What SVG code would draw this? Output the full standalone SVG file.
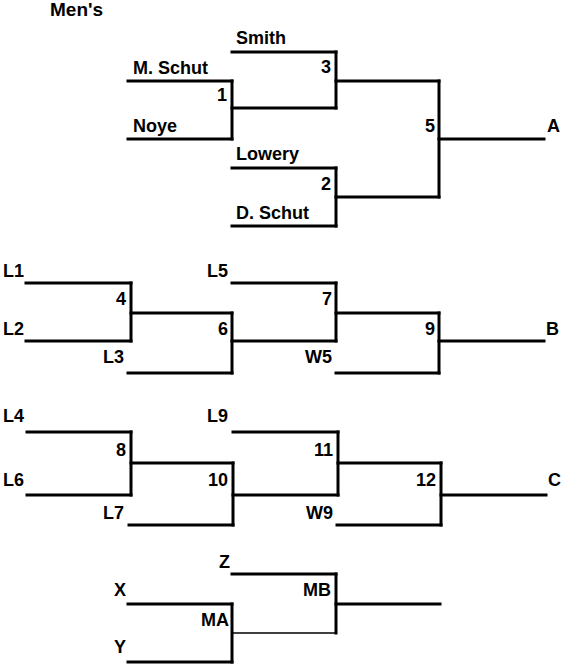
<svg xmlns="http://www.w3.org/2000/svg" width="561" height="665" viewBox="0 0 561 665">
<style>
text{font-family:"Liberation Sans",Arial,sans-serif;font-weight:bold;font-size:18px;fill:#000}
.e{text-anchor:end}
line{stroke:#000;stroke-width:3;stroke-linecap:square}
.thin{stroke-width:1.5}
.title{font-size:19px}
</style>
<rect width="561" height="665" fill="#fff"/>
<text class="title" x="50" y="16">Men's</text>

<!-- Section 1 -->
<g id="p-mschut"><text x="133" y="74">M. Schut</text><line x1="128" y1="81" x2="232" y2="81"/></g>
<g id="p-noye"><text x="133" y="132">Noye</text><line x1="128" y1="139" x2="232" y2="139"/></g>
<g id="p-smith"><text x="236" y="44">Smith</text><line x1="232" y1="52" x2="336" y2="52"/></g>
<g id="p-lowery"><text x="236" y="160">Lowery</text><line x1="232" y1="168" x2="336" y2="168"/></g>
<g id="p-dschut"><text x="236" y="219">D. Schut</text><line x1="232" y1="226" x2="336" y2="226"/></g>
<g id="m1"><line x1="232" y1="81" x2="232" y2="139"/><text class="e" x="227" y="101">1</text></g>
<g id="m3"><line x1="336" y1="52" x2="336" y2="108"/><text class="e" x="331" y="73">3</text></g>
<g id="m2"><line x1="336" y1="168" x2="336" y2="226"/><text class="e" x="331" y="190">2</text></g>
<g id="m5"><line x1="439" y1="81" x2="439" y2="197"/><text class="e" x="435" y="132">5</text></g>
<g id="rA"><text x="547" y="132">A</text></g>

<!-- Section 2 -->
<g id="p-l1"><text x="3" y="277">L1</text><line x1="26" y1="283" x2="131" y2="283"/></g>
<g id="p-l2"><text x="3" y="335">L2</text><line x1="26" y1="341" x2="131" y2="341"/></g>
<g id="p-l3"><text class="e" x="124" y="363">L3</text><line x1="128" y1="373" x2="232" y2="373"/></g>
<g id="p-l5"><text class="e" x="228" y="277">L5</text><line x1="232" y1="283" x2="336" y2="283"/></g>
<g id="p-w5"><text class="e" x="332" y="363">W5</text><line x1="336" y1="373" x2="439" y2="373"/></g>
<g id="m4"><line x1="131" y1="283" x2="131" y2="341"/><text class="e" x="126" y="305">4</text></g>
<g id="m6"><line x1="232" y1="313" x2="232" y2="373"/><text class="e" x="228" y="335">6</text></g>
<g id="m7"><line x1="336" y1="283" x2="336" y2="341"/><text class="e" x="332" y="305">7</text></g>
<g id="m9"><line x1="439" y1="313" x2="439" y2="373"/><text class="e" x="435" y="335">9</text></g>
<g id="rB"><text x="546" y="335">B</text></g>

<!-- Section 3 -->
<g id="p-l4"><text x="3" y="422">L4</text><line x1="27" y1="432" x2="131" y2="432"/></g>
<g id="p-l6"><text x="3" y="486">L6</text><line x1="27" y1="495" x2="131" y2="495"/></g>
<g id="p-l7"><text class="e" x="124" y="519">L7</text><line x1="129" y1="525" x2="233" y2="525"/></g>
<g id="p-l9"><text class="e" x="228" y="422">L9</text><line x1="233" y1="432" x2="338" y2="432"/></g>
<g id="p-w9"><text class="e" x="333" y="519">W9</text><line x1="337" y1="525" x2="441" y2="525"/></g>
<g id="m8"><line x1="131" y1="432" x2="131" y2="495"/><text class="e" x="126" y="456">8</text></g>
<g id="m10"><line x1="233" y1="463" x2="233" y2="525"/><text class="e" x="228" y="486">10</text></g>
<g id="m11"><line x1="338" y1="432" x2="338" y2="495"/><text class="e" x="333" y="456">11</text></g>
<g id="m12"><line x1="441" y1="463" x2="441" y2="525"/><text class="e" x="436" y="486">12</text></g>
<g id="rC"><text x="548" y="486">C</text></g>

<!-- Section 4 -->
<g id="p-z"><text class="e" x="230" y="568">Z</text><line x1="232" y1="574" x2="336" y2="574"/></g>
<g id="p-x"><text class="e" x="126" y="596">X</text><line x1="128" y1="604" x2="232" y2="604"/></g>
<g id="p-y"><text class="e" x="126" y="653">Y</text><line x1="128" y1="662" x2="232" y2="662"/></g>
<g id="mMA"><line x1="232" y1="604" x2="232" y2="662"/><text class="e" x="229" y="626">MA</text></g>
<g id="mMB"><line x1="336" y1="574" x2="336" y2="633"/><text class="e" x="331" y="596">MB</text></g>

<g id="connectors">
<line x1="232" y1="108" x2="336" y2="108"/>
<line x1="336" y1="81" x2="439" y2="81"/>
<line x1="336" y1="197" x2="439" y2="197"/>
<line x1="439" y1="139" x2="544" y2="139"/>
<line x1="131" y1="313" x2="232" y2="313"/>
<line x1="232" y1="341" x2="336" y2="341"/>
<line x1="336" y1="313" x2="439" y2="313"/>
<line x1="439" y1="341" x2="544" y2="341"/>
<line x1="131" y1="463" x2="233" y2="463"/>
<line x1="233" y1="495" x2="338" y2="495"/>
<line x1="338" y1="463" x2="441" y2="463"/>
<line x1="441" y1="495" x2="546" y2="495"/>
<line class="thin" x1="232" y1="633" x2="336" y2="633"/>
<line x1="336" y1="604" x2="440" y2="604"/>
</g>
</svg>
